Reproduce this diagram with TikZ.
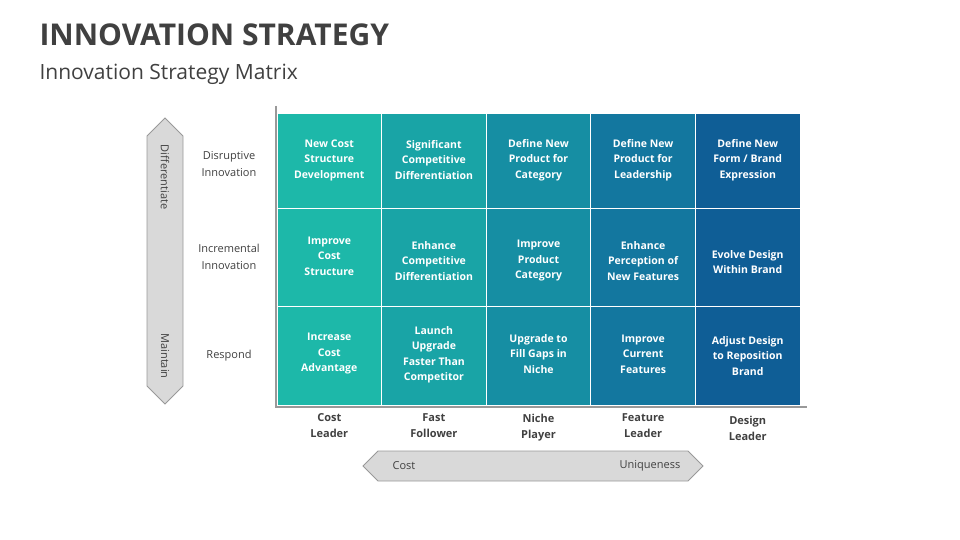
\documentclass[tikz,border=0pt]{standalone}
\usepackage{fontspec}
\setmainfont{Open Sans}
\definecolor{c1}{HTML}{1DB8A9}
\definecolor{c2}{HTML}{19A4A6}
\definecolor{c3}{HTML}{168EA3}
\definecolor{c4}{HTML}{13779F}
\definecolor{c5}{HTML}{0F5E96}
\definecolor{tgray}{HTML}{404040}
\tikzset{cell/.style={inner sep=0pt,align=center,text=white,font=\bfseries\fontsize{10.5}{15.5}\selectfont},
rowlab/.style={align=center,text=tgray,font=\fontsize{11}{17}\selectfont},
collab/.style={align=center,text=tgray,font=\bfseries\fontsize{11}{16}\selectfont},
garrow/.style={fill=gray!30,draw=gray!80,line width=0.8pt}}
\begin{document}
\begin{tikzpicture}[x=1pt,y=-1pt]
\useasboundingbox (0,0) rectangle (960,540);
\node[anchor=west,font=\bfseries\fontsize{30}{34}\selectfont,text=tgray] (title) at (36,35) {INNOVATION STRATEGY};
\node[anchor=west,font=\fontsize{21}{24}\selectfont,text=tgray] (sub) at (36,74) {Innovation Strategy Matrix};
\foreach \c/\col in {0/c1,1/c2,2/c3,3/c4,4/c5}{
 \foreach \r/\h/\y in {0/94/114,1/98/208,2/99/306}{
  \fill[\col] (277+\c*104.6+0.5,\y+0.5) rectangle (277+\c*104.6+104.1,\y+\h-0.5);
 }}
\def\cx#1{277+#1*104.6+52.3}
\node[cell] (a1) at ({\cx0},160) {New Cost\\Structure\\Development};
\node[cell] (a2) at ({\cx1},160) {Significant\\Competitive\\Differentiation};
\node[cell] (a3) at ({\cx2},160) {Define New\\Product for\\Category};
\node[cell] (a4) at ({\cx3},160) {Define New\\Product for\\Leadership};
\node[cell] (a5) at ({\cx4},160) {Define New\\Form / Brand\\Expression};
\node[cell] (b1) at ({\cx0},256) {Improve\\Cost\\Structure};
\node[cell] (b2) at ({\cx1},261) {Enhance\\Competitive\\Differentiation};
\node[cell] (b3) at ({\cx2},261) {Improve\\Product\\Category};
\node[cell] (b4) at ({\cx3},261) {Enhance\\Perception of\\New Features};
\node[cell] (b5) at ({\cx4},262) {Evolve Design\\Within Brand};
\node[cell] (d1) at ({\cx0},354) {Increase\\Cost\\Advantage};
\node[cell] (d2) at ({\cx1},355) {Launch\\Upgrade\\Faster Than\\Competitor};
\node[cell] (d3) at ({\cx2},354) {Upgrade to\\Fill Gaps in\\Niche};
\node[cell] (d4) at ({\cx3},354) {Improve\\Current\\Features};
\node[cell] (d5) at ({\cx4},356) {Adjust Design\\to Reposition\\Brand};
\coordinate (o) at (276,407);
\coordinate (top) at (276,106);
\coordinate (right) at (807,407);
\draw[gray!80,line width=1.5pt] (top) -- (o) -- (right);
\node[rowlab] (r1) at (229,164) {Disruptive\\Innovation};
\node[rowlab] (r2) at (229,257) {Incremental\\Innovation};
\node[rowlab] (r3) at (229,356) {Respond};
\node[collab] (l1) at ({\cx0},426) {Cost\\Leader};
\node[collab] (l2) at ({\cx1},426) {Fast\\Follower};
\node[collab] (l3) at ({\cx2},428) {Niche\\Player};
\node[collab] (l4) at ({\cx3},426) {Feature\\Leader};
\node[collab] (l5) at ({\cx4},428) {Design\\Leader};
\draw[garrow] (165,118) -- (183,136) -- (183,386) -- (165,404) -- (147,386) -- (147,136) -- cycle;
\node[rotate=-90,text=tgray,font=\fontsize{11}{13}\selectfont] (dif) at (165,177) {Differentiate};
\node[rotate=-90,text=tgray,font=\fontsize{11}{13}\selectfont] (mai) at (165,356) {Maintain};
\draw[garrow] (363,466) -- (378,451) -- (688,451) -- (703,466) -- (688,481) -- (378,481) -- cycle;
\node[text=tgray,font=\fontsize{11}{13}\selectfont] (cost) at (404,466) {Cost};
\node[text=tgray,font=\fontsize{11}{13}\selectfont] (uniq) at (650,466) {Uniqueness};
\end{tikzpicture}
\end{document}
